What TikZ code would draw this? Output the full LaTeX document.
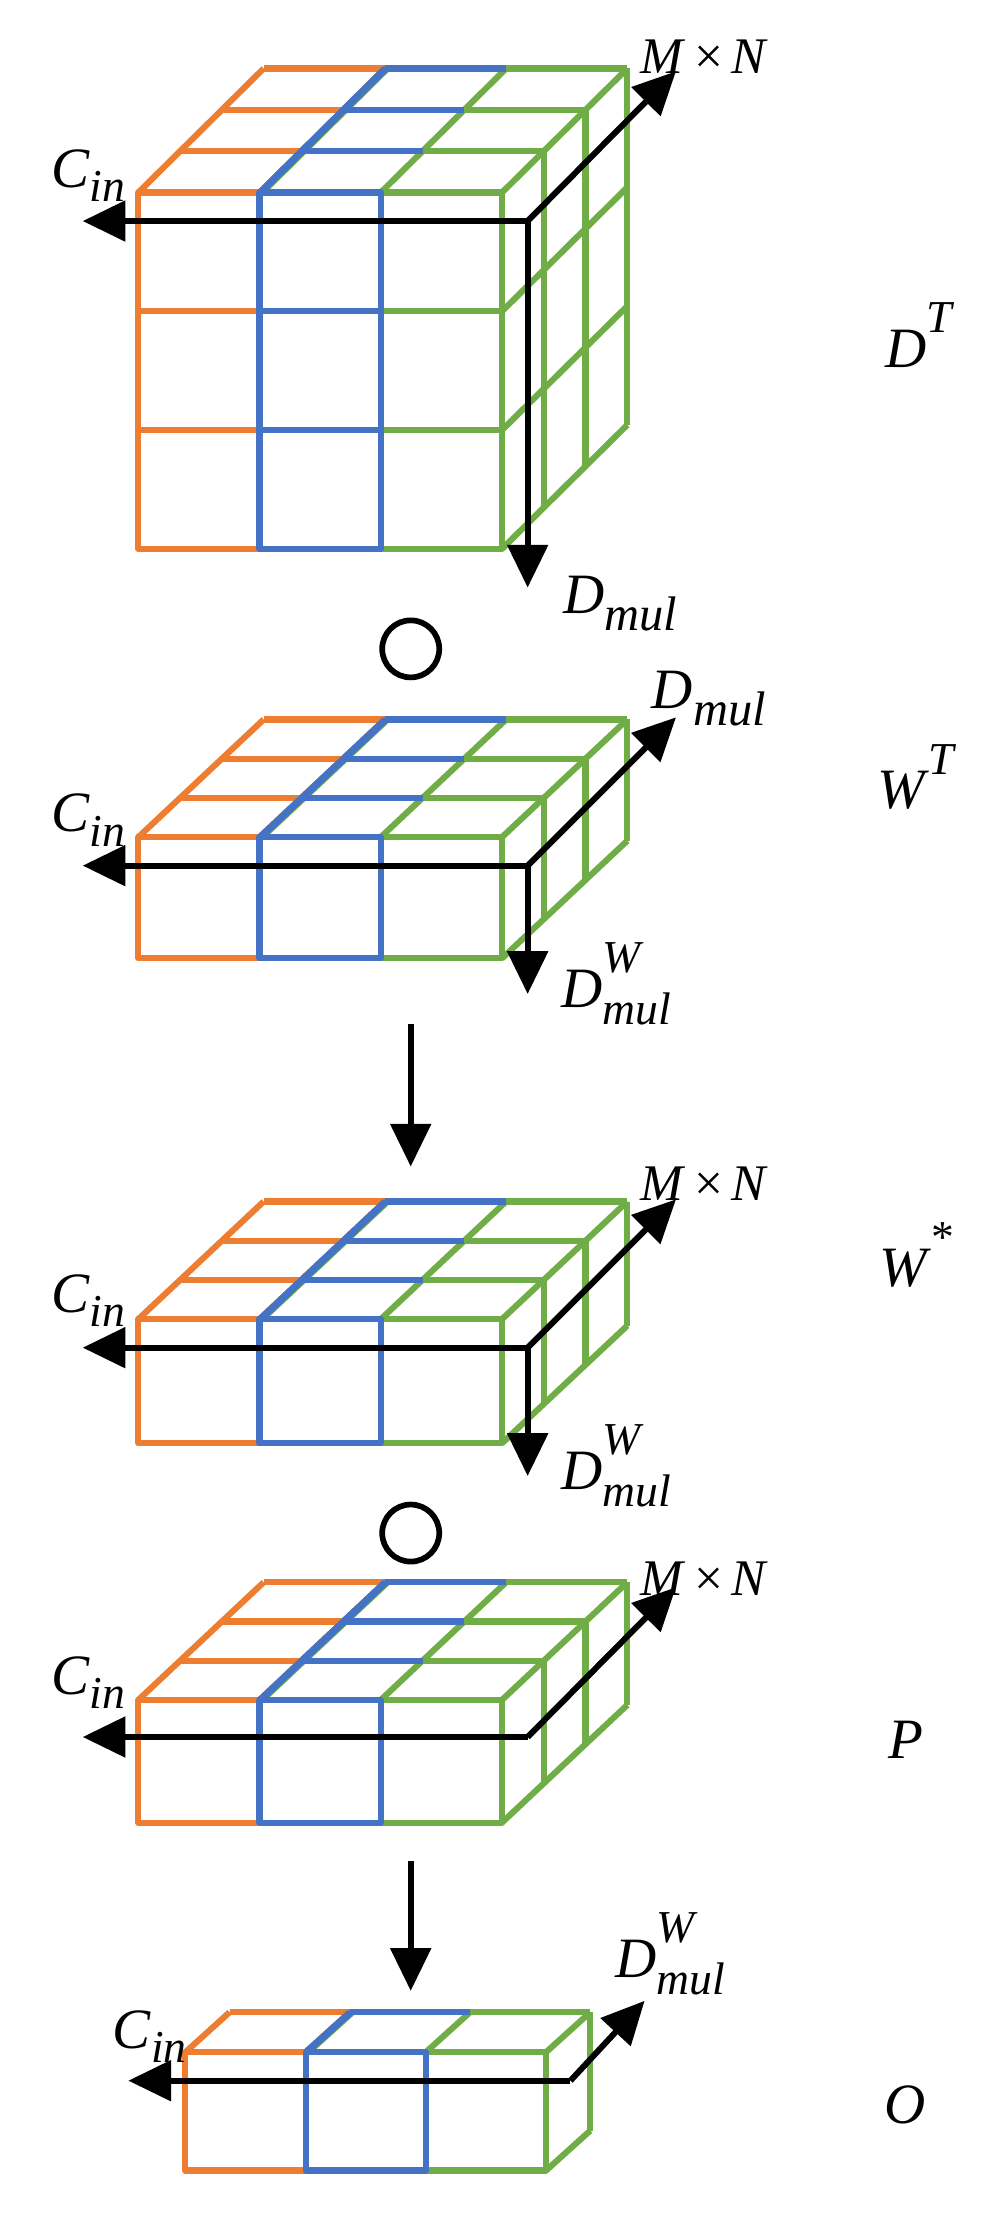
\documentclass[tikz,border=0pt]{standalone}
\usepackage{fontspec}
\setmainfont{Liberation Serif}
\usetikzlibrary{arrows.meta}
\definecolor{cor}{HTML}{ED7D31}
\definecolor{cbl}{HTML}{4472C4}
\definecolor{cgr}{HTML}{70AD47}
\newcommand\cuboid[8]{% x0 y0 w h nr nd ddx ddy
  \foreach \c/\col in {0/cor,2/cgr,1/cbl}{
    \draw[\col] ({#1+\c*#3},#2) rectangle ({#1+(\c+1)*#3},{#2+#5*#4});
    \foreach \r in {1,...,#5}{\draw[\col] ({#1+\c*#3},{#2+\r*#4}) -- ++(#3,0);}
    \foreach \k in {1,...,#6}{\draw[\col] ({#1+\c*#3+\k*#7},{#2+\k*#8}) -- ++(#3,0);}
    \foreach \j in {\c,\c+1}{\draw[\col] ({#1+\j*#3},#2) -- ++({#6*#7},{#6*#8});}
  }
  \foreach \k in {1,...,#6}{\draw[cgr] ({#1+3*#3+\k*#7},{#2+\k*#8}) -- ++(0,{#5*#4});}
  \foreach \r in {0,...,#5}{\draw[cgr] ({#1+3*#3},{#2+\r*#4}) -- ++({#6*#7},{#6*#8});}
}
\newcommand\DW{\textit{D}\rlap{\raisebox{0.62em}{\fontsize{32}{32}\selectfont\textit{W}}}\raisebox{-0.3em}{\fontsize{32}{32}\selectfont\textit{mul}}}
\newcommand\Cin{\textit{C}\raisebox{-0.25em}{\fontsize{32}{32}\selectfont\textit{in}}}
\newcommand\MN{\textit{M}\,×\,\textit{N}}
\begin{document}
\begin{tikzpicture}[x=1pt,y=-1pt,line width=4.3pt,line join=round,
  ax/.style={line width=4.2pt,black,-{Triangle[length=30pt,width=28pt]}},
  lab/.style={inner sep=0pt,font=\fontsize{40}{44}\selectfont},
  op/.style={circle,draw,line width=4pt,minimum size=40pt,inner sep=0pt}]
\useasboundingbox (0,0) rectangle (690,1556);
% block 1
\cuboid{97}{135}{85}{83.3}{3}{3}{29.3}{-29}
\coordinate (o1) at (370,155);
\coordinate (c1) at (58,155);
\coordinate (m1) at (474,50);
\coordinate (d1) at (370,412);
\draw[ax] (o1) -- (c1); \draw[ax] (o1) -- (m1); \draw[ax] (o1) -- (d1);
\node[lab] (l1a) at (62,123) {\Cin};
\node[lab,font=\fontsize{36}{40}\selectfont] (l1b) at (494,40) {\MN};
\node[lab] (l1c) at (645,235) {\textit{D}\raisebox{0.6em}{\fontsize{32}{32}\selectfont\textit{T}}};
\node[lab] (l1d) at (435,423) {\textit{D}\raisebox{-0.3em}{\fontsize{34}{34}\selectfont\textit{mul}}};
\node[op] (op1) at (288,455) {};
% block 2
\cuboid{97}{587}{85}{85}{1}{3}{29.3}{-27.5}
\coordinate (o2) at (370,607);
\coordinate (c2) at (58,607);
\coordinate (m2) at (474,503);
\coordinate (d2) at (370,697);
\draw[ax] (o2) -- (c2); \draw[ax] (o2) -- (m2); \draw[ax] (o2) -- (d2);
\node[lab] (l2a) at (62,575) {\Cin};
\node[lab] (l2b) at (497,490) {\textit{D}\raisebox{-0.3em}{\fontsize{34}{34}\selectfont\textit{mul}}};
\node[lab] (l2c) at (643,545) {\textit{W}\raisebox{0.6em}{\fontsize{32}{32}\selectfont\textit{T}}};
\node[lab] (l2d) at (432,690) {\DW};
\coordinate (a1s) at (288,718);
\coordinate (a1e) at (288,818);
\draw[ax] (a1s) -- (a1e);
% block 3
\cuboid{97}{925}{85}{87}{1}{3}{29.3}{-27.5}
\coordinate (o3) at (370,945);
\coordinate (c3) at (58,945);
\coordinate (m3) at (474,841);
\coordinate (d3) at (370,1035);
\draw[ax] (o3) -- (c3); \draw[ax] (o3) -- (m3); \draw[ax] (o3) -- (d3);
\node[lab] (l3a) at (62,912) {\Cin};
\node[lab,font=\fontsize{36}{40}\selectfont] (l3b) at (494,830) {\MN};
\node[lab] (l3c) at (643,880) {\textit{W}\raisebox{0.6em}{\fontsize{32}{32}\selectfont *}};
\node[lab] (l3d) at (432,1028) {\DW};
\node[op] (op2) at (288,1075) {};
% block 4
\cuboid{97}{1192}{85}{86}{1}{3}{29.3}{-27.5}
\coordinate (o4) at (370,1218);
\coordinate (c4) at (58,1218);
\coordinate (m4) at (474,1113);
\draw[ax] (o4) -- (c4); \draw[ax] (o4) -- (m4);
\node[lab] (l4a) at (62,1180) {\Cin};
\node[lab,font=\fontsize{36}{40}\selectfont] (l4b) at (494,1107) {\MN};
\node[lab] (l4c) at (635,1220) {\textit{P}};
\coordinate (a2s) at (288,1305);
\coordinate (a2e) at (288,1396);
\draw[ax] (a2s) -- (a2e);
% block 5
\cuboid{130}{1439}{84.3}{83}{1}{1}{31}{-28}
\coordinate (o5) at (400,1459);
\coordinate (c5) at (90,1459);
\coordinate (m5) at (452,1403);
\draw[ax] (o5) -- (c5); \draw[ax] (o5) -- (m5);
\node[lab] (l5a) at (105,1428) {\Cin};
\node[lab] (l5b) at (470,1370) {\DW};
\node[lab] (l5c) at (635,1476) {\textit{O}};
\end{tikzpicture}
\end{document}
